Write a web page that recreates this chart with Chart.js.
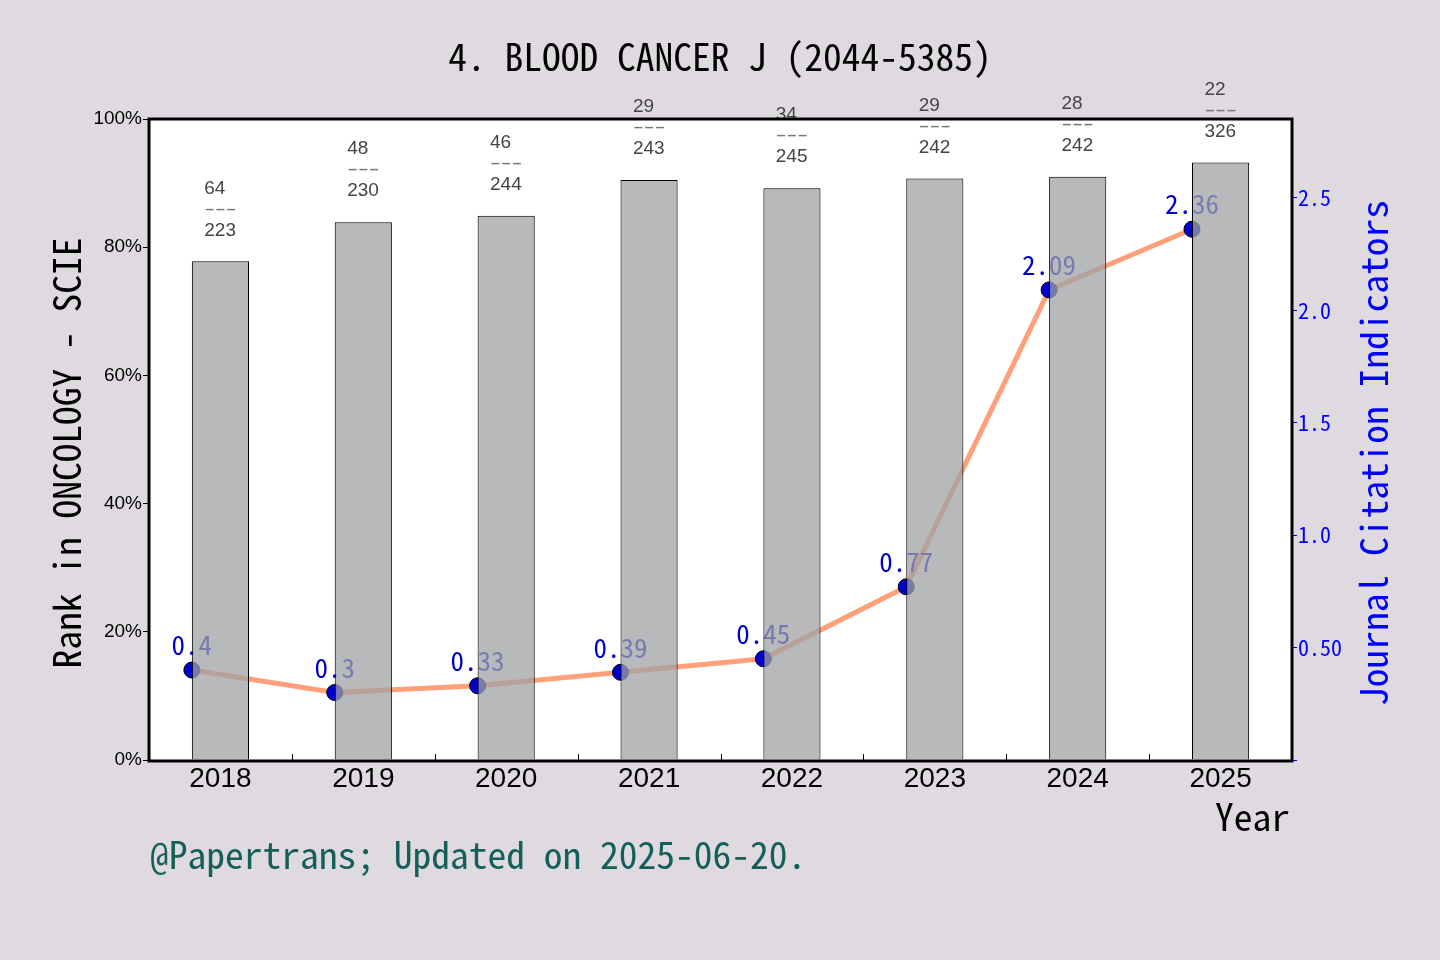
<!DOCTYPE html>
<html>
<head>
<meta charset="utf-8">
<script src="https://cdn.jsdelivr.net/npm/chart.js@4/dist/chart.umd.min.js"></script>
<style>
  html, body { margin: 0; padding: 0; background: #dedae0; }
  #wrap { width: 1440px; height: 960px; position: relative; }
</style>
</head>
<body>
<div id="wrap"><canvas id="myChart" width="1440" height="960"></canvas></div>
<script>
// DATA
const years = ['2018', '2019', '2020', '2021', '2022', '2023', '2024', '2025'];
const rankPercent = [77.8, 83.9, 84.9, 90.5, 89.2, 90.7, 91.0, 93.2];
const rankPos = [64, 48, 46, 29, 34, 29, 28, 22];
const rankTotal = [223, 230, 244, 243, 245, 242, 242, 326];
const jciValues = [0.4, 0.3, 0.33, 0.39, 0.45, 0.77, 2.09, 2.36];
const leftTicks = [0, 20, 40, 60, 80, 100];
const rightTicks = [0, 0.5, 1.0, 1.5, 2.0, 2.5];
const rightTickLabels = ['', '0.50', '1.0', '1.5', '2.0', '2.5'];

const titleText = '4. BLOOD CANCER J (2044-5385)';
const leftTitle = 'Rank in ONCOLOGY - SCIE';
const rightTitle = 'Journal Citation Indicators';
const xTitle = 'Year';
const footerText = '@Papertrans; Updated on 2025-06-20.';

const MONO = '"Noto Sans Mono CJK SC", "DejaVu Sans Mono", monospace';
const SANS = '"Liberation Sans", Arial, sans-serif';

// white plot area
const plotBackground = {
  id: 'plotBackground',
  beforeDatasetsDraw(chart) {
    const a = chart.chartArea;
    const ctx = chart.ctx;
    ctx.save();
    ctx.fillStyle = '#ffffff';
    ctx.fillRect(a.left, a.top, a.right - a.left, a.bottom - a.top);
    ctx.restore();
  }
};

// labels under the bars (drawn before the bar dataset)
const valueLabels = {
  id: 'valueLabels',
  afterDatasetDraw(chart, args) {
    if (args.index !== 1) return;
    const ctx = chart.ctx;
    ctx.save();
    ctx.font = '27px ' + MONO;
    ctx.fillStyle = '#0000cd';
    ctx.textAlign = 'center';
    ctx.textBaseline = 'middle';
    args.meta.data.forEach((pt, i) => {
      ctx.fillText(String(jciValues[i]), pt.x, pt.y - 25);
    });
    ctx.restore();
  }
};

// texts, frame, minor ticks
const decorations = {
  id: 'decorations',
  afterDraw(chart) {
    const ctx = chart.ctx;
    const area = chart.chartArea;
    const xs = chart.scales.x;
    const barMeta = chart.getDatasetMeta(0);
    ctx.save();

    // rank labels above bars (block centred, lines left aligned)
    ctx.font = '19px ' + SANS;
    ctx.textAlign = 'left';
    ctx.textBaseline = 'middle';
    barMeta.data.forEach((bar, i) => {
      const dashW = ctx.measureText('---').width * 1.7;
      const w = Math.max(ctx.measureText(String(rankPos[i])).width,
                         ctx.measureText(String(rankTotal[i])).width, dashW);
      const left = bar.x - w / 2;
      ctx.fillStyle = '#444444';
      ctx.fillText(String(rankPos[i]), left, bar.y - 73);
      ctx.fillText(String(rankTotal[i]), left, bar.y - 31);
      ctx.save();
      ctx.translate(left, bar.y - 52);
      ctx.scale(1.7, 1);
      ctx.fillStyle = '#777777';
      ctx.fillText('---', 0, 0);
      ctx.restore();
    });

    // minor ticks between categories
    ctx.strokeStyle = '#000';
    ctx.lineWidth = 1;
    for (let i = 0; i < years.length - 1; i++) {
      const mx = Math.round((xs.getPixelForValue(i) + xs.getPixelForValue(i + 1)) / 2) + 0.5;
      ctx.beginPath();
      ctx.moveTo(mx, area.bottom);
      ctx.lineTo(mx, area.bottom - 6);
      ctx.stroke();
    }

    // frame
    ctx.lineWidth = 3;
    ctx.strokeRect(area.left, area.top, area.right - area.left, area.bottom - area.top + 1);

    // titles
    ctx.fillStyle = '#000';
    ctx.font = '37.5px ' + MONO;
    ctx.textAlign = 'center';
    ctx.fillText(titleText, 720, 57);

    ctx.save();
    ctx.translate(67, 453);
    ctx.rotate(-Math.PI / 2);
    ctx.fillText(leftTitle, 0, 0);
    ctx.restore();

    ctx.save();
    ctx.translate(1374, 453);
    ctx.rotate(-Math.PI / 2);
    ctx.fillStyle = '#0000ff';
    ctx.fillText(rightTitle, 0, 0);
    ctx.restore();

    ctx.textAlign = 'right';
    ctx.fillText(xTitle, 1290, 817);

    ctx.textAlign = 'left';
    ctx.fillStyle = '#145f5a';
    ctx.fillText(footerText, 150, 855);

    ctx.restore();
  }
};

const data = {
  labels: years,
  datasets: [{
    type: 'bar',
    label: 'Rank',
    data: rankPercent,
    yAxisID: 'y',
    xAxisID: 'x',
    order: 0,
    grouped: false,
    backgroundColor: 'rgba(160, 162, 164, 0.75)',
    borderColor: '#000',
    borderWidth: 1,
    categoryPercentage: 1,
    barPercentage: 0.4
  }, {
    type: 'line',
    label: 'JCI',
    data: jciValues.map((v, i) => ({ x: i - 0.2, y: v })),
    yAxisID: 'y2',
    xAxisID: 'xl',
    order: 1,
    borderColor: '#ffa07a',
    borderWidth: 5,
    pointRadius: 8,
    pointBackgroundColor: '#0000cd',
    pointBorderColor: '#000',
    pointBorderWidth: 1,
    tension: 0
  }]
};

const config = {
  data,
  options: {
    responsive: false,
    animation: false,
    devicePixelRatio: 1,
    layout: { padding: { top: 119, left: 0, right: 0, bottom: 0 } },
    plugins: {
      legend: { display: false },
      tooltip: { enabled: false }
    },
    scales: {
      x: {
        type: 'category',
        offset: true,
        border: { display: false },
        grid: { display: false, drawTicks: false },
        ticks: { color: '#000', font: { family: SANS, size: 28 }, padding: 2, maxRotation: 0 },
        afterFit(scale) { scale.height = 200; }
      },
      xl: {
        type: 'linear',
        display: false,
        min: -0.5,
        max: years.length - 0.5
      },
      y: {
        position: 'left',
        min: 0,
        max: 100,
        border: { display: false },
        grid: { drawOnChartArea: false, tickLength: 6, tickColor: '#000', tickWidth: 1 },
        afterBuildTicks(scale) { scale.ticks = leftTicks.map(v => ({ value: v })); },
        ticks: {
          color: '#000',
          font: { family: SANS, size: 19 },
          padding: 1,
          callback: v => v + '%'
        },
        afterFit(scale) { scale.width = 149; }
      },
      y2: {
        position: 'right',
        min: 0,
        max: 2.85,
        border: { display: false },
        grid: { drawOnChartArea: false, tickLength: 5, tickColor: '#0000ff', tickWidth: 1 },
        afterBuildTicks(scale) { scale.ticks = rightTicks.map(v => ({ value: v })); },
        ticks: {
          color: '#0000ff',
          font: { family: MONO, size: 22 },
          padding: 1,
          callback: (v) => rightTickLabels[rightTicks.indexOf(v)]
        },
        afterFit(scale) { scale.width = 148; }
      }
    }
  },
  plugins: [plotBackground, valueLabels, decorations]
};

const myChart = new Chart(document.getElementById('myChart'), config);
</script>
</body>
</html>
